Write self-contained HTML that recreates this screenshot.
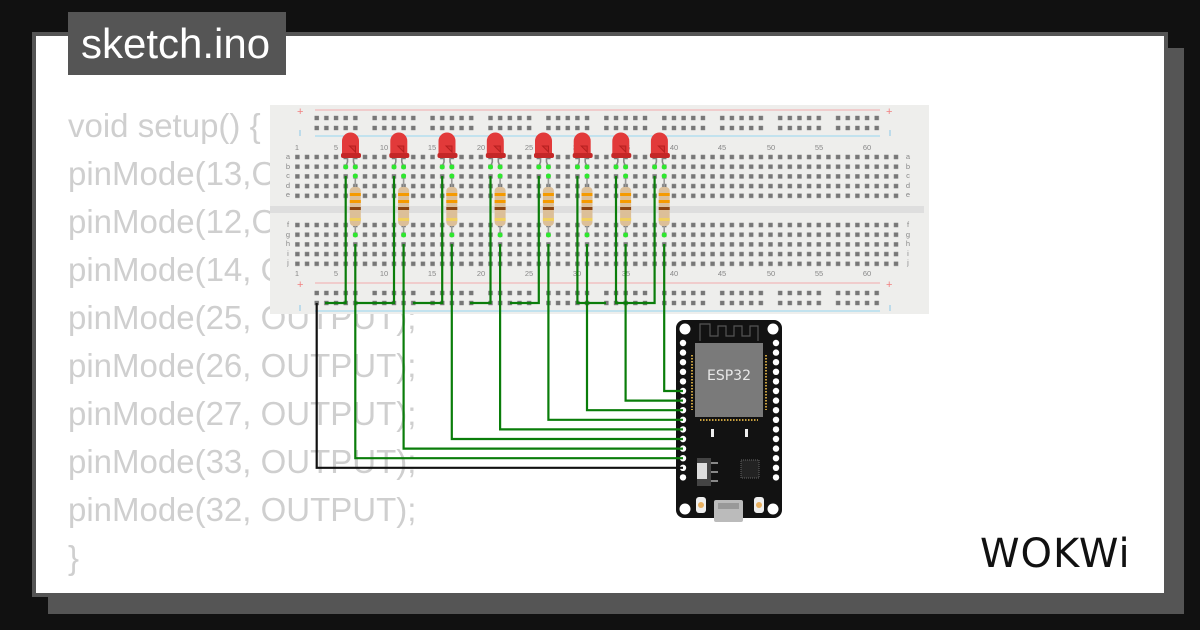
<!DOCTYPE html>
<html><head><meta charset="utf-8"><style>
html,body{margin:0;padding:0;background:#111;}
svg{display:block}
</style></head><body>
<svg width="1200" height="630" viewBox="0 0 1200 630" xmlns="http://www.w3.org/2000/svg">
<defs>
<pattern id="th" patternUnits="userSpaceOnUse" x="292.57" y="152.15" width="9.655" height="9.7"><rect x="2.63" y="2.65" width="4.4" height="4.4" fill="#777"/></pattern>
<pattern id="th2" patternUnits="userSpaceOnUse" x="292.57" y="220.15" width="9.655" height="9.7"><rect x="2.63" y="2.65" width="4.4" height="4.4" fill="#777"/></pattern>
<pattern id="rl" patternUnits="userSpaceOnUse" x="311.9" y="113" width="57.93" height="10"><rect x="2.63" y="2.8" width="4.4" height="4.4" fill="#777"/><rect x="12.28" y="2.8" width="4.4" height="4.4" fill="#777"/><rect x="21.94" y="2.8" width="4.4" height="4.4" fill="#777"/><rect x="31.6" y="2.8" width="4.4" height="4.4" fill="#777"/><rect x="41.25" y="2.8" width="4.4" height="4.4" fill="#777"/></pattern>
<pattern id="rl2" patternUnits="userSpaceOnUse" x="311.9" y="288" width="57.93" height="10"><rect x="2.63" y="2.8" width="4.4" height="4.4" fill="#777"/><rect x="12.28" y="2.8" width="4.4" height="4.4" fill="#777"/><rect x="21.94" y="2.8" width="4.4" height="4.4" fill="#777"/><rect x="31.6" y="2.8" width="4.4" height="4.4" fill="#777"/><rect x="41.25" y="2.8" width="4.4" height="4.4" fill="#777"/></pattern>
<g id="led">
<path d="M-3,150 L-3,162 L-5,167 M3,150 L3,162 L5,167" stroke="#888" stroke-width="1.6" fill="none"/>
<path d="M-8.5,157 L-8.5,141 A8.5,8.5 0 0 1 8.5,141 L8.5,157 Z" fill="#e23a3a"/>
<rect x="-9.5" y="153" width="20" height="5" rx="2" fill="#c42727"/>
<path d="M-1,146 L5,146 L5,152 Z M-1,146 L5,152" stroke="#b52020" stroke-width="1" fill="#d63030"/>
</g>
<g id="res">
<line x1="0" y1="176" x2="0" y2="235" stroke="#999" stroke-width="1.6"/>
<rect x="-5.5" y="187" width="11" height="39" rx="4" fill="#dcbf98"/>
<rect x="-5.5" y="193" width="11" height="3" fill="#f59a00"/>
<rect x="-5.5" y="200" width="11" height="3" fill="#f59a00"/>
<rect x="-5.5" y="207" width="11" height="3" fill="#8b4513"/>
<rect x="-5.5" y="218" width="11" height="3" fill="#f0d060"/>
</g>
</defs>
<rect width="1200" height="630" fill="#111"/>
<rect x="48" y="48" width="1136" height="566" fill="#555"/>
<rect x="32" y="32" width="1136" height="565" fill="#555"/>
<rect x="36" y="36" width="1128" height="557" fill="#fff"/>
<rect x="68" y="12" width="218" height="63" fill="#555"/>
<text x="81" y="58" font-family="Liberation Sans, DejaVu Sans, sans-serif" font-size="42" fill="#fff">sketch.ino</text>
<g font-family="Liberation Sans, DejaVu Sans, sans-serif" font-size="33" fill="#cfcfcf">
<text x="68" y="137">void setup() {</text>
<text x="68" y="185">pinMode(13,OUTPUT);</text>
<text x="68" y="233">pinMode(12,OUTPUT);</text>
<text x="68" y="281">pinMode(14, OUTPUT);</text>
<text x="68" y="329">pinMode(25, OUTPUT);</text>
<text x="68" y="377">pinMode(26, OUTPUT);</text>
<text x="68" y="425">pinMode(27, OUTPUT);</text>
<text x="68" y="473">pinMode(33, OUTPUT);</text>
<text x="68" y="521">pinMode(32, OUTPUT);</text>
<text x="68" y="569">}</text>
</g>
<text x="980" y="567" font-family="DejaVu Sans, sans-serif" font-size="40" fill="#111" letter-spacing="1">WOKWi</text>
<!-- breadboard -->
<rect x="270" y="105" width="659" height="209" fill="#eeeeec"/>
<rect x="270" y="206" width="654" height="7" fill="#dedede"/>
<line x1="315" y1="110" x2="880" y2="110" stroke="#f2b8b8" stroke-width="1.2"/>
<line x1="315" y1="136" x2="880" y2="136" stroke="#a8dcf0" stroke-width="1.2"/>
<line x1="315" y1="283" x2="880" y2="283" stroke="#f2b8b8" stroke-width="1.2"/>
<line x1="315" y1="311" x2="880" y2="311" stroke="#a8dcf0" stroke-width="1.2"/>
<g fill="#f08080" font-family="Liberation Sans, sans-serif" font-size="11"><text x="297" y="115">+</text><text x="886" y="115">+</text><text x="297" y="288">+</text><text x="886" y="288">+</text></g>
<g stroke="#8cc8e8" stroke-width="1"><line x1="300" y1="130" x2="300" y2="136"/><line x1="890" y1="130" x2="890" y2="136"/><line x1="300" y1="305" x2="300" y2="311"/><line x1="890" y1="305" x2="890" y2="311"/></g>
<rect x="311.9" y="113" width="571" height="20" fill="url(#rl)"/>
<rect x="311.9" y="288" width="571" height="20" fill="url(#rl2)"/>
<rect x="292.57" y="152.15" width="608.3" height="48.5" fill="url(#th)"/>
<rect x="292.57" y="220.15" width="608.3" height="48.5" fill="url(#th2)"/>
<g font-family="Liberation Sans, DejaVu Sans, sans-serif" font-size="7.5" fill="#888" text-anchor="middle">
<text x="297" y="150">1</text><text x="336" y="150">5</text><text x="384" y="150">10</text><text x="432" y="150">15</text><text x="481" y="150">20</text><text x="529" y="150">25</text><text x="577" y="150">30</text><text x="626" y="150">35</text><text x="674" y="150">40</text><text x="722" y="150">45</text><text x="771" y="150">50</text><text x="819" y="150">55</text><text x="867" y="150">60</text>
<text x="297" y="276">1</text><text x="336" y="276">5</text><text x="384" y="276">10</text><text x="432" y="276">15</text><text x="481" y="276">20</text><text x="529" y="276">25</text><text x="577" y="276">30</text><text x="626" y="276">35</text><text x="674" y="276">40</text><text x="722" y="276">45</text><text x="771" y="276">50</text><text x="819" y="276">55</text><text x="867" y="276">60</text>
<text x="288" y="159">a</text><text x="288" y="169">b</text><text x="288" y="178">c</text><text x="288" y="188">d</text><text x="288" y="197">e</text>
<text x="288" y="227">f</text><text x="288" y="237">g</text><text x="288" y="246">h</text><text x="288" y="256">i</text><text x="288" y="265">j</text>
<text x="908" y="159">a</text><text x="908" y="169">b</text><text x="908" y="178">c</text><text x="908" y="188">d</text><text x="908" y="197">e</text>
<text x="908" y="227">f</text><text x="908" y="237">g</text><text x="908" y="246">h</text><text x="908" y="256">i</text><text x="908" y="265">j</text>
</g>
<!-- ESP32 -->
<rect x="676" y="320" width="106" height="198" rx="8" fill="#121212"/>
<g fill="#fff"><circle cx="685" cy="329" r="5.5"/><circle cx="773" cy="329" r="5.5"/><circle cx="685" cy="509" r="5.5"/><circle cx="773" cy="509" r="5.5"/></g>
<path d="M700,341 V324 H710 V336 H718 V326 H726 V336 H734 V326 H742 V336 H750 V326 H758 V341" stroke="#555" stroke-width="1.2" fill="none"/>
<rect x="695" y="343" width="68" height="74" fill="#7a7a7a"/>
<g stroke="#c8a040" stroke-width="2" stroke-dasharray="1.5 1.5"><line x1="692" y1="355" x2="692" y2="410"/><line x1="766" y1="355" x2="766" y2="410"/><line x1="700" y1="420" x2="758" y2="420"/></g>
<text x="729" y="380" font-family="DejaVu Sans, sans-serif" font-size="14" fill="#e8e8e8" text-anchor="middle">ESP32</text>
<rect x="711" y="429" width="3" height="8" fill="#eee"/><rect x="745" y="429" width="3" height="8" fill="#eee"/>
<rect x="697" y="458" width="14" height="28" fill="#444"/><rect x="697" y="463" width="10" height="16" fill="#ddd"/>
<g stroke="#888" stroke-width="2"><line x1="711" y1="463" x2="718" y2="463"/><line x1="711" y1="472" x2="718" y2="472"/><line x1="711" y1="481" x2="718" y2="481"/></g>
<rect x="741" y="460" width="18" height="18" fill="#222" stroke="#666" stroke-width="1" stroke-dasharray="1 1"/>
<rect x="696" y="497" width="10" height="16" rx="3" fill="#eee"/><circle cx="701" cy="505" r="3" fill="#e8b060"/>
<rect x="754" y="497" width="10" height="16" rx="3" fill="#eee"/><circle cx="759" cy="505" r="3" fill="#e8b060"/>
<rect x="714" y="500" width="29" height="22" rx="2" fill="#bbb"/><rect x="718" y="503" width="21" height="6" fill="#999"/>
<g fill="#fff">
<circle cx="683" cy="343" r="3.2"/><circle cx="683" cy="352.6" r="3.2"/><circle cx="683" cy="362.2" r="3.2"/><circle cx="683" cy="371.8" r="3.2"/><circle cx="683" cy="381.4" r="3.2"/><circle cx="683" cy="391" r="3.2"/><circle cx="683" cy="400.6" r="3.2"/><circle cx="683" cy="410.2" r="3.2"/><circle cx="683" cy="419.8" r="3.2"/><circle cx="683" cy="429.4" r="3.2"/><circle cx="683" cy="439" r="3.2"/><circle cx="683" cy="448.6" r="3.2"/><circle cx="683" cy="458.2" r="3.2"/><circle cx="683" cy="467.8" r="3.2"/><circle cx="683" cy="477.4" r="3.2"/>
<circle cx="776" cy="343" r="3.2"/><circle cx="776" cy="352.6" r="3.2"/><circle cx="776" cy="362.2" r="3.2"/><circle cx="776" cy="371.8" r="3.2"/><circle cx="776" cy="381.4" r="3.2"/><circle cx="776" cy="391" r="3.2"/><circle cx="776" cy="400.6" r="3.2"/><circle cx="776" cy="410.2" r="3.2"/><circle cx="776" cy="419.8" r="3.2"/><circle cx="776" cy="429.4" r="3.2"/><circle cx="776" cy="439" r="3.2"/><circle cx="776" cy="448.6" r="3.2"/><circle cx="776" cy="458.2" r="3.2"/><circle cx="776" cy="467.8" r="3.2"/><circle cx="776" cy="477.4" r="3.2"/>
</g>
<!-- LEDs and resistors -->
<use href="#led" x="350.5" y="0"/><use href="#res" x="355.3" y="0"/>
<use href="#led" x="398.8" y="0"/><use href="#res" x="403.6" y="0"/>
<use href="#led" x="447" y="0"/><use href="#res" x="451.8" y="0"/>
<use href="#led" x="495.3" y="0"/><use href="#res" x="500.1" y="0"/>
<use href="#led" x="543.5" y="0"/><use href="#res" x="548.4" y="0"/>
<use href="#led" x="582.2" y="0"/><use href="#res" x="587" y="0"/>
<use href="#led" x="620.8" y="0"/><use href="#res" x="625.6" y="0"/>
<use href="#led" x="659.4" y="0"/><use href="#res" x="664.2" y="0"/>
<!-- wires -->
<g fill="none" stroke="#0a7d0a" stroke-width="2.2">
<path d="M345.7,176 V303 H325"/>
<path d="M394,176 V303 H355"/>
<path d="M442.2,176 V303 H413"/>
<path d="M490.5,176 V303 H470"/>
<path d="M538.8,176 V303 H510"/>
<path d="M577.4,176 V303 H606"/>
<path d="M616,176 V303 H647"/>
<path d="M654.6,176 V303 H644"/>
<path d="M664.2,244 V391 H683"/>
<path d="M625.6,244 V400.6 H683"/>
<path d="M587,244 V410.2 H683"/>
<path d="M548.4,244 V419.8 H683"/>
<path d="M500.1,244 V429.4 H683"/>
<path d="M451.8,244 V439 H683"/>
<path d="M403.6,244 V448.6 H683"/>
<path d="M355.3,244 V458.2 H683"/>
</g>
<path d="M316.7,303 V467.8 H683" fill="none" stroke="#111" stroke-width="2.2"/>
<g fill="#2ee82e">
<circle cx="345.7" cy="167" r="2.5"/><circle cx="355.3" cy="167" r="2.5"/><circle cx="355.3" cy="176" r="2.5"/><circle cx="355.3" cy="235" r="2.5"/>
<circle cx="394" cy="167" r="2.5"/><circle cx="403.6" cy="167" r="2.5"/><circle cx="403.6" cy="176" r="2.5"/><circle cx="403.6" cy="235" r="2.5"/>
<circle cx="442.2" cy="167" r="2.5"/><circle cx="451.8" cy="167" r="2.5"/><circle cx="451.8" cy="176" r="2.5"/><circle cx="451.8" cy="235" r="2.5"/>
<circle cx="490.5" cy="167" r="2.5"/><circle cx="500.1" cy="167" r="2.5"/><circle cx="500.1" cy="176" r="2.5"/><circle cx="500.1" cy="235" r="2.5"/>
<circle cx="538.8" cy="167" r="2.5"/><circle cx="548.4" cy="167" r="2.5"/><circle cx="548.4" cy="176" r="2.5"/><circle cx="548.4" cy="235" r="2.5"/>
<circle cx="577.4" cy="167" r="2.5"/><circle cx="587" cy="167" r="2.5"/><circle cx="587" cy="176" r="2.5"/><circle cx="587" cy="235" r="2.5"/>
<circle cx="616" cy="167" r="2.5"/><circle cx="625.6" cy="167" r="2.5"/><circle cx="625.6" cy="176" r="2.5"/><circle cx="625.6" cy="235" r="2.5"/>
<circle cx="654.6" cy="167" r="2.5"/><circle cx="664.2" cy="167" r="2.5"/><circle cx="664.2" cy="176" r="2.5"/><circle cx="664.2" cy="235" r="2.5"/>
</g>
</svg>
</body></html>
